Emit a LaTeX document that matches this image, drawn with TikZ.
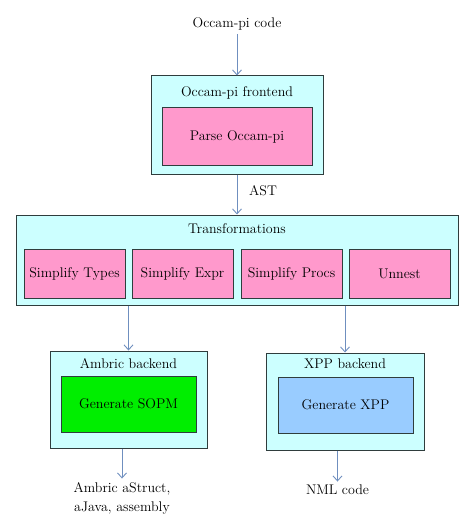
\documentclass[tikz,border=0pt]{standalone}
\usepackage{tikz}
\usetikzlibrary{arrows.meta}

\definecolor{panel}{HTML}{CCFFFF}
\definecolor{pass}{HTML}{FF99CC}
\definecolor{sopm}{HTML}{00EE00}
\definecolor{xppgen}{HTML}{99CCFF}
\definecolor{edge}{HTML}{2F3D3D}
\definecolor{flow}{HTML}{6F8FBF}

\begin{document}
\begin{tikzpicture}[x=1pt, y=-1pt,
    font=\fontsize{14}{19}\selectfont,
    panelbox/.style={draw=edge, line width=1pt, fill=panel, inner sep=0pt},
    passbox/.style={draw=edge, line width=1pt, inner sep=0pt},
    flowarrow/.style={draw=flow, line width=0.9pt, -{Straight Barb[length=5pt, width=9pt]}},
  ]
   \useasboundingbox (0,0) rectangle (474,532);
   % outer boxes
   \node[panelbox, minimum width=172pt, minimum height=98pt] (front) at (237,125) {};
   \node[panelbox, minimum width=442pt, minimum height=90pt] (trans) at (237,260) {};
   \node[panelbox, minimum width=157pt, minimum height=97pt] (ambric) at (128.5,399.5) {};
   \node[panelbox, minimum width=158pt, minimum height=97pt] (xpp) at (345,401.5) {};

   % box titles
   \node (fronttitle) at (237,93) {Occam-pi frontend};
   \node (transtitle) at (237,229) {Transformations};
   \node (ambrictitle) at (128.5,364) {Ambric backend};
   \node (xpptitle) at (345,364) {XPP backend};

   % inner boxes
   \node[passbox, fill=pass, minimum width=150pt, minimum height=57pt] (parse) at (237,136.5) {Parse Occam-pi};
   \node[passbox, fill=pass, minimum width=101pt, minimum height=49pt] (types) at (74.5,273.5) {Simplify Types};
   \node[passbox, fill=pass, minimum width=101pt, minimum height=49pt] (expr) at (182.5,273.5) {Simplify Expr};
   \node[passbox, fill=pass, minimum width=101pt, minimum height=49pt] (procs) at (291.5,273.5) {Simplify Procs};
   \node[passbox, fill=pass, minimum width=101pt, minimum height=49pt] (unnest) at (399.5,273.5) {Unnest};
   \node[passbox, fill=sopm, minimum width=135pt, minimum height=56pt] (gensopm) at (128.5,404) {Generate SOPM};
   \node[passbox, fill=xppgen, minimum width=135pt, minimum height=56pt] (genxpp) at (345.5,405) {Generate XPP};

   % inputs and outputs
   \node (src) at (237,24) {Occam-pi code};
   \node[align=center] (ambricout) at (122,498) {Ambric aStruct,\\aJava, assembly};
   \node (nml) at (337.5,490) {NML code};
   \node (ast) at (263,191) {AST};

   % arrows
   \draw[flowarrow] (src.south) -- (front.north);
   \draw[flowarrow] (front.south) -- (trans.north);
   \draw[flowarrow] (trans.south -| ambric.north) -- (ambric.north);
   \draw[flowarrow] (trans.south -| xpp.north) -- (xpp.north);
   \draw[flowarrow] (ambric.south -| ambricout.north) -- (ambricout.north);
   \draw[flowarrow] (xpp.south -| nml.north) -- (nml.north);
\end{tikzpicture}
\end{document}
